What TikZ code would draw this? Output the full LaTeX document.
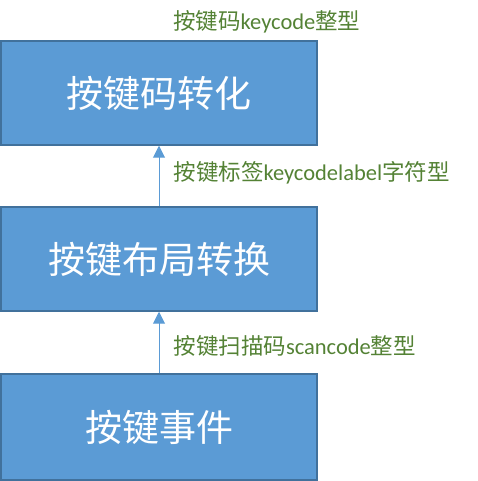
\documentclass[tikz,border=0pt]{standalone}
\usepackage{fontspec}
\setmainfont{Carlito}
\newfontfamily\cjk{Noto Sans CJK SC}
\usetikzlibrary{positioning,arrows.meta}
\definecolor{boxfill}{HTML}{5B9BD5}
\definecolor{boxline}{HTML}{41719C}
\definecolor{lblgreen}{HTML}{548235}
\tikzset{
stage/.style={draw=boxline,fill=boxfill,line width=1.5pt,minimum width=316pt,
  minimum height=104pt,text=white,font=\cjk\fontsize{37}{40}\selectfont},
lbl/.style={text=lblgreen,font=\fontsize{22.5}{25}\selectfont,inner sep=0pt,anchor=west},
flow/.style={draw=boxfill,line width=1pt,-{Triangle[width=12pt,length=12pt]}}
}
\begin{document}
\begin{tikzpicture}[x=1pt,y=1pt]
\useasboundingbox (0,0) rectangle (478,481);
\node[stage] (convert) at (159,388) {按键码转化};
\node[stage] (layout) at (159,222) {按键布局转换};
\node[stage,minimum height=106pt] (event) at (159,54) {按键事件};
%\node (dbg) at (159,240) {x};
\node[lbl] (outlbl) at ([xshift=14pt,yshift=18pt]convert.north) {{\cjk 按键码}keycode{\cjk 整型}};
\draw[flow] (event) -- node[lbl,xshift=14pt,yshift=-3pt] (scanlbl) {{\cjk 按键扫描码}scancode{\cjk 整型}} (layout);
\draw[flow] (layout) -- node[lbl,xshift=14pt,yshift=3pt] (keylbl) {{\cjk 按键标签}keycodelabel{\cjk 字符型}} (convert);
\end{tikzpicture}
\end{document}
